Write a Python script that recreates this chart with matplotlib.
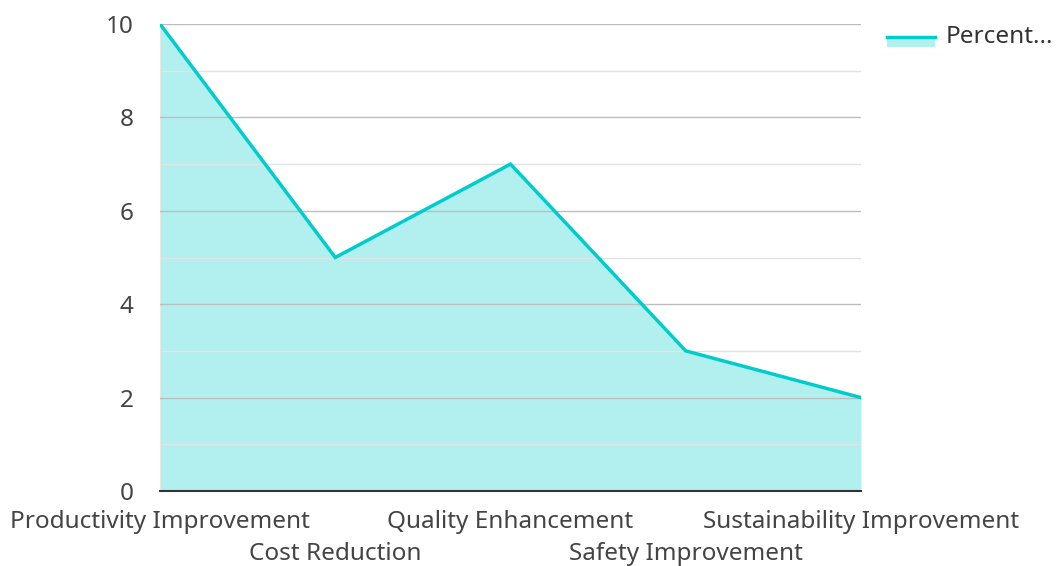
import numpy as np
import matplotlib.pyplot as plt
from matplotlib.lines import Line2D
from matplotlib.patches import Rectangle

categories = ["Productivity Improvement", "Cost Reduction", "Quality Enhancement",
              "Safety Improvement", "Sustainability Improvement"]
percent = [10, 5, 7, 3, 2]
series_name = "Percent..."

plt.rcParams['font.family'] = ['Noto Sans', 'DejaVu Sans']

line_c = "#00cccc"
W, H = 1056, 566

fig = plt.figure(figsize=(W / 100, H / 100), dpi=100)
ax = fig.add_axes([160/W, 75/H, 701/W, 467/H])

x = np.arange(len(categories))
ax.fill_between(x, percent, 0, color=line_c, alpha=0.3, lw=0, zorder=1)
ax.plot(x, percent, color=line_c, lw=2.5, zorder=3, solid_joinstyle='miter')

ax.set_xlim(0, len(categories) - 1)
ax.set_ylim(0, 10)
ax.set_yticks(range(0, 11, 2))
ax.set_yticks(range(1, 10, 2), minor=True)
ax.grid(axis='y', which='major', color='#bdbdbd', lw=1, zorder=2)
ax.grid(axis='y', which='minor', color='#e3e3e3', lw=1, zorder=2)
ax.set_axisbelow(False)

for s in ['top', 'right']:
    ax.spines[s].set_visible(False)
ax.spines['left'].set_color('#e6e6e6')
ax.spines['bottom'].set_color('#333333')
ax.spines['bottom'].set_linewidth(1.5)
ax.spines['bottom'].set_zorder(4)

ax.tick_params(axis='y', which='both', length=0, pad=19, labelsize=17.5, labelcolor='#444444')

# staggered category labels: even ones on major ticks, odd ones on minor ticks one row lower
ax.set_xticks(x[::2])
ax.set_xticklabels(categories[::2])
ax.set_xticks(x[1::2], minor=True)
ax.set_xticklabels(categories[1::2], minor=True)
ax.tick_params(axis='x', which='major', length=0, pad=14, labelsize=17.5, labelcolor='#444444')
ax.tick_params(axis='x', which='minor', length=0, pad=37, labelsize=17.5, labelcolor='#444444')

# legend drawn by hand: fill swatch with the line along its top
fig.patches.append(Rectangle((887/W, 1 - 47/H), 48/W, 10/H, transform=fig.transFigure,
                             facecolor=line_c, alpha=0.3, lw=0))
fig.lines.append(Line2D([887/W, 935/W], [1 - 37/H, 1 - 37/H], transform=fig.transFigure,
                        color=line_c, lw=2.5))
fig.text(946/W, 1 - 37/H, series_name, fontsize=17.5, color='#333333', va='center', ha='left')

fig.savefig("out.png", dpi=100)
